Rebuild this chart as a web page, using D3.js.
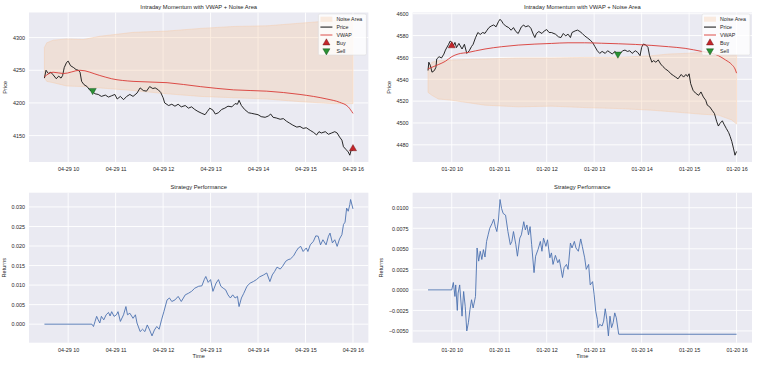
<!DOCTYPE html>
<html><head><meta charset="utf-8">
<script src="https://cdn.jsdelivr.net/npm/d3@7"></script>
<style>body{margin:0;background:#fff} text{font-family:"Liberation Sans",Arial,sans-serif;fill:#262626}</style>
</head><body><svg id="c" width="773" height="365"></svg>
<script>
// ---------- DATA ----------
const leftDay = "2024-04-29";
const rightDay = "2024-01-20";
const sessionStart = "09:30", sessionEnd = "16:00";

const leftPrice = [["09:30",4238],["09:32",4250],["09:35",4245],["09:38",4247],["09:41",4243],["09:45",4237],["09:48",4241],["09:51",4238],["09:53",4242],["09:55",4254],["09:58",4262],["10:00",4264],["10:03",4257],["10:07",4254],["10:10",4251],["10:13",4250],["10:15",4247],["10:17",4233],["10:20",4228],["10:24",4225],["10:27",4220],["10:30",4218],["10:34",4214],["10:38",4213],["10:42",4210],["10:47",4212],["10:51",4209],["10:55",4211],["10:59",4213],["11:02",4206],["11:06",4210],["11:10",4205],["11:14",4210],["11:18",4213],["11:22",4210],["11:27",4215],["11:31",4223],["11:35",4219],["11:39",4218],["11:43",4225],["11:47",4222],["11:50",4223],["11:54",4220],["11:57",4216],["12:00",4208],["12:02",4200],["12:07",4196],["12:11",4198],["12:15",4195],["12:19",4198],["12:23",4194],["12:28",4196],["12:32",4192],["12:36",4194],["12:40",4190],["12:44",4187],["12:49",4184],["12:53",4182],["12:56",4187],["12:59",4192],["13:03",4189],["13:06",4183],["13:10",4185],["13:14",4190],["13:18",4192],["13:22",4195],["13:27",4194],["13:31",4199],["13:34",4198],["13:36",4204],["13:39",4196],["13:43",4190],["13:48",4185],["13:52",4184],["13:56",4183],["14:00",4182],["14:04",4179],["14:09",4178],["14:13",4180],["14:16",4183],["14:19",4178],["14:23",4177],["14:28",4175],["14:32",4176],["14:36",4172],["14:40",4169],["14:44",4166],["14:49",4163],["14:53",4164],["14:57",4161],["15:01",4162],["15:06",4158],["15:10",4155],["15:14",4151],["15:17",4156],["15:20",4154],["15:25",4156],["15:29",4152],["15:33",4154],["15:37",4156],["15:40",4154],["15:43",4148],["15:46",4143],["15:48",4133],["15:51",4129],["15:54",4125],["15:56",4120],["15:58",4129],["16:00",4127]];
const leftVwap = [["09:30",4240],["09:41",4247],["09:54",4245],["10:15",4250],["10:40",4242],["10:55",4237],["11:22",4233],["12:05",4231],["12:47",4225],["13:29",4220],["14:11",4218],["14:53",4213],["15:27",4206],["15:43",4201],["15:54",4194],["16:00",4184]];
const leftBandUpper = [["09:30",4285],["09:33",4292],["09:41",4296],["09:58",4298],["10:19",4297],["10:40",4302],["11:22",4308],["12:05",4310],["12:47",4314],["13:29",4317],["14:11",4318],["14:53",4322],["15:35",4326],["16:00",4328]];
const leftBandLower = [["09:30",4238],["09:33",4233],["09:41",4231],["09:58",4226],["10:19",4225],["10:40",4223],["11:22",4219],["12:05",4214],["12:47",4210],["13:29",4208],["14:11",4206],["14:53",4202],["15:35",4199],["16:00",4199]];
const leftBuys = [["16:00",4130]];
const leftSells = [["10:31",4219]];

const rightPrice = [["09:30",4548],["09:31",4555.6],["09:33",4552.5],["09:35",4546.5],["09:38",4548],["09:40",4551],["09:41",4558.6],["09:44",4560.7],["09:47",4559.5],["09:50",4563],["09:52",4566.7],["09:56",4572],["09:58",4575],["10:00",4573.7],["10:02",4570.7],["10:04",4573.7],["10:06",4569],["10:09",4572.8],["10:13",4567.7],["10:16",4572],["10:19",4563.7],["10:22",4566],["10:25",4570],["10:27",4572],["10:30",4578],["10:33",4582.8],["10:36",4581],["10:39",4582.8],["10:42",4582],["10:44",4584.3],["10:47",4587.3],["10:50",4588.8],["10:53",4589.7],["10:56",4588],["10:59",4592.7],["11:01",4594.9],["11:03",4593.3],["11:05",4591],["11:08",4588.8],["11:12",4587.3],["11:15",4584.9],["11:18",4587.3],["11:21",4583.7],["11:24",4581.9],["11:28",4588],["11:31",4589.7],["11:33",4588],["11:37",4589],["11:40",4586.7],["11:43",4581.3],["11:45",4578.2],["11:47",4581.9],["11:50",4583.7],["11:54",4581.9],["11:57",4584.3],["12:00",4585.5],["12:03",4582.8],["12:06",4582.8],["12:11",4581.3],["12:15",4578.8],["12:18",4578.2],["12:21",4581.9],["12:24",4579.7],["12:27",4581.3],["12:30",4578.2],["12:32",4582.8],["12:36",4584.3],["12:39",4585],["12:42",4583.7],["12:45",4581.9],["12:48",4579.7],["12:52",4577.6],["12:55",4575.8],["12:58",4573.7],["13:01",4569.8],["13:04",4566.1],["13:07",4563.7],["13:10",4565.5],["13:14",4563.7],["13:17",4566.1],["13:20",4564.6],["13:23",4563.1],["13:26",4565.5],["13:30",4563.1],["13:33",4563.7],["13:36",4566.1],["13:39",4566.7],["13:42",4565.5],["13:45",4566.1],["13:48",4563.7],["13:52",4566.1],["13:55",4564.6],["13:58",4561.6],["14:00",4569.2],["14:02",4572.2],["14:05",4571.6],["14:08",4569.2],["14:10",4561.6],["14:13",4555.6],["14:15",4557.1],["14:18",4555.6],["14:21",4557.7],["14:24",4554],["14:27",4551.6],["14:30",4549.5],["14:34",4547.4],["14:37",4545],["14:40",4543.5],["14:43",4542],["14:46",4540.4],["14:50",4544.4],["14:53",4542],["14:56",4544.4],["14:58",4542.6],["15:00",4545],["15:02",4536],["15:05",4529.9],["15:08",4527.4],["15:12",4525.3],["15:15",4528.4],["15:18",4523.8],["15:21",4520.8],["15:23",4516.3],["15:26",4514.8],["15:29",4511.7],["15:32",4508.7],["15:35",4501.1],["15:37",4497.2],["15:39",4499.6],["15:42",4502],["15:44",4499],["15:47",4495],["15:50",4491.2],["15:52",4487.5],["15:54",4483],["15:56",4477],["15:58",4470.5],["16:00",4473.9]];
const rightVwap = [["09:30",4549.5],["09:35",4551],["09:43",4553.4],["09:52",4556.5],["10:00",4560.7],["10:08",4563.1],["10:21",4564.6],["10:30",4566],["10:42",4567.7],["11:03",4569.8],["11:24",4571.3],["11:45",4572.2],["12:06",4572.8],["12:27",4573.4],["12:48",4573.4],["13:09",4573],["13:31",4572.5],["13:52",4571.9],["14:13",4571],["14:34",4569.8],["14:55",4568.3],["15:16",4565.5],["15:29",4563.7],["15:37",4561.6],["15:46",4557.7],["15:54",4553.4],["15:58",4549.5],["16:00",4545.6]];
const rightBandUpper = [["09:30",4550],["09:35",4555.6],["09:43",4557],["10:00",4557.7],["10:42",4558.6],["11:24",4559.5],["12:06",4559.5],["12:48",4560],["13:31",4560],["14:13",4561.6],["14:34",4563.1],["14:55",4563.7],["15:16",4564.6],["15:37",4563],["15:54",4562.5],["16:00",4562.5]];
const rightBandLower = [["09:30",4528],["09:35",4525.3],["09:43",4522],["10:00",4520.8],["10:42",4516.3],["11:24",4514.8],["12:06",4515.4],["12:48",4514.1],["13:31",4513.2],["14:13",4511.7],["14:34",4510.5],["14:55",4509.3],["15:16",4508],["15:37",4507.2],["15:54",4502.7],["16:00",4499]];
const rightBuys = [["10:00",4570.7]];
const rightSells = [["13:30",4563]];

const leftReturns = [["09:30",0],["10:30",0],["10:32",-0.0006],["10:34",0.0007],["10:36",0.002],["10:38",0.0011],["10:40",0.0003],["10:42",0.002],["10:45",0.0011],["10:48",0.0024],["10:51",0.003],["10:53",0.0021],["10:55",0.0032],["10:58",0.002],["11:01",0.0024],["11:03",0.0032],["11:06",0.0007],["11:10",0.0024],["11:13",0.0045],["11:15",0.0024],["11:18",0.0028],["11:22",0.0015],["11:25",0.0024],["11:27",0.0003],["11:31",-0.0019],["11:34",-0.0013],["11:37",-0.0019],["11:40",-0.0002],["11:43",-0.0015],["11:46",-0.003],["11:49",-0.0015],["11:52",-0.0006],["11:55",-0.0013],["11:58",0.0011],["12:01",0.0032],["12:05",0.0062],["12:08",0.0067],["12:11",0.0058],["12:15",0.0062],["12:19",0.0071],["12:23",0.0058],["12:28",0.0075],["12:32",0.0079],["12:36",0.0084],["12:40",0.0092],["12:45",0.0097],["12:49",0.0098],["12:52",0.0114],["12:54",0.0122],["12:57",0.0107],["13:00",0.0114],["13:03",0.0084],["13:07",0.0105],["13:10",0.0114],["13:13",0.0097],["13:16",0.0092],["13:19",0.0088],["13:22",0.0075],["13:25",0.0067],["13:28",0.0075],["13:31",0.0067],["13:34",0.0071],["13:36",0.0045],["13:39",0.0067],["13:42",0.0079],["13:46",0.0097],["13:50",0.0105],["13:54",0.0109],["13:58",0.0114],["14:02",0.0121],["14:07",0.0126],["14:11",0.0131],["14:15",0.0109],["14:18",0.0126],["14:21",0.0135],["14:24",0.0146],["14:28",0.0141],["14:31",0.0148],["14:35",0.0161],["14:38",0.0165],["14:41",0.0167],["14:45",0.0175],["14:48",0.0186],["14:51",0.0195],["14:54",0.0199],["14:57",0.0186],["15:01",0.0195],["15:03",0.0186],["15:06",0.0203],["15:10",0.0212],["15:13",0.0226],["15:16",0.0225],["15:19",0.0203],["15:22",0.0216],["15:26",0.0203],["15:29",0.0225],["15:31",0.0233],["15:34",0.0208],["15:37",0.0216],["15:40",0.0199],["15:43",0.0218],["15:46",0.0229],["15:48",0.0255],["15:50",0.0261],["15:52",0.0297],["15:54",0.0289],["15:56",0.0306],["15:57",0.0319],["16:00",0.0295]];
const rightReturns = [["09:30",0],["10:00",0],["10:02",0.0009],["10:04",-0.0008],["10:05",0.0006],["10:07",-0.0025],["10:08",-0.0004],["10:10",0.0006],["10:13",-0.0032],["10:15",-0.0002],["10:17",-0.002],["10:19",-0.005],["10:21",-0.004],["10:23",-0.0024],["10:25",-0.0012],["10:27",-0.0022],["10:30",-0.0008],["10:32",0.0051],["10:34",0.0035],["10:36",0.0047],["10:38",0.0037],["10:40",0.0049],["10:42",0.004],["10:44",0.0059],["10:46",0.0067],["10:48",0.0075],["10:51",0.0081],["10:53",0.0086],["10:55",0.0077],["10:57",0.0071],["10:59",0.0085],["11:01",0.011],["11:03",0.0099],["11:05",0.0093],["11:08",0.0091],["11:11",0.0071],["11:14",0.0055],["11:16",0.0059],["11:18",0.0071],["11:21",0.0055],["11:23",0.0041],["11:26",0.0063],["11:28",0.0067],["11:31",0.0083],["11:33",0.0073],["11:35",0.0079],["11:37",0.0067],["11:39",0.0077],["11:41",0.0055],["11:44",0.0021],["11:46",0.0041],["11:49",0.0049],["11:52",0.0059],["11:54",0.0047],["11:56",0.0063],["11:59",0.0053],["12:01",0.0061],["12:04",0.0039],["12:06",0.0045],["12:08",0.0031],["12:11",0.0042],["12:14",0.0033],["12:16",0.0037],["12:20",0.0015],["12:22",0.0027],["12:25",0.0031],["12:27",0.0025],["12:30",0.0057],["12:32",0.0051],["12:35",0.0059],["12:37",0.0051],["12:40",0.0047],["12:43",0.0062],["12:45",0.0053],["12:48",0.0039],["12:50",0.0025],["12:53",0.0031],["12:55",0.0006],["12:58",0.001],["13:00",-0.0006],["13:02",-0.0026],["13:04",-0.0036],["13:05",-0.0046],["13:07",-0.0042],["13:10",-0.0044],["13:12",-0.0038],["13:14",-0.0023],["13:16",-0.0036],["13:18",-0.0056],["13:20",-0.0032],["13:22",-0.0046],["13:24",-0.004],["13:26",-0.0028],["13:28",-0.0034],["13:31",-0.0054],["16:00",-0.0054]];

const priceTicksLeft = [4150,4200,4250,4300];
const priceTicksRight = [4480,4500,4520,4540,4560,4580,4600];
const returnTicksLeft = [0,0.005,0.010,0.015,0.020,0.025,0.030];
const returnTicksRight = [-0.005,-0.0025,0,0.0025,0.005,0.0075,0.010];
const legendLabels = ["Noise Area","Price","VWAP","Buy","Sell"];
const topTitle = "Intraday Momentum with VWAP + Noise Area";
const bottomTitle = "Strategy Performance";

// ---------- DRAW ----------
const svg = d3.select("#c");
const C = {bg:"#EAEAF2", band:"#F5CBA7", bandOp:0.35, price:"#111", vwap:"#d93a36", ret:"#4C72B0", buy:"#c4262b", sell:"#2a9134"};
const toDate = (day, t) => new Date(day + "T" + t + ":00");
const fmtMinus = s => s.replace("-", "\u2212");

function panel(o) {
  const {L, R, T, B, day} = o;
  const pad = (R - L) * 0; // placeholder
  const s = toDate(day, sessionStart), e = toDate(day, sessionEnd);
  const span = e - s;
  const x = d3.scaleTime().domain([new Date(+s - span*0.05), new Date(+e + span*0.05)]).range([L, R]);
  const [mn, mx] = d3.extent(o.allValues);
  const yr = mx - mn;
  const y = d3.scaleLinear().domain([mn - yr*0.05, mx + yr*0.05]).range([B, T]);
  const g = svg.append("g");
  g.append("rect").attr("x", L).attr("y", T).attr("width", R - L).attr("height", B - T).attr("fill", C.bg);
  // grid
  const xt = x.ticks(d3.timeHour.every(1));
  g.append("g").selectAll("line").data(xt).join("line")
    .attr("x1", d => x(d)).attr("x2", d => x(d)).attr("y1", T).attr("y2", B)
    .attr("stroke", "#fff").attr("stroke-width", 0.9);
  g.append("g").selectAll("line").data(o.yTicks).join("line")
    .attr("y1", d => y(d)).attr("y2", d => y(d)).attr("x1", L).attr("x2", R)
    .attr("stroke", "#fff").attr("stroke-width", 0.9);
  // axes (no domain, no tick lines)
  const xa = g.append("g").attr("transform", `translate(0,${B})`)
    .call(d3.axisBottom(x).tickValues(xt).tickSize(0).tickPadding(5).tickFormat(d3.timeFormat("%m-%d %H")));
  const ya = g.append("g").attr("transform", `translate(${L},0)`)
    .call(d3.axisLeft(y).tickValues(o.yTicks).tickSize(0).tickPadding(4).tickFormat(d => fmtMinus(d3.format(o.yFmt)(d))));
  [xa, ya].forEach(a => { a.select(".domain").remove(); a.selectAll("text").attr("font-size", 5.4).attr("fill", "#333").attr("font-family", '"Liberation Sans",Arial,sans-serif'); });
  g.append("text").attr("x", (L + R) / 2).attr("y", T - 3.5).attr("text-anchor", "middle").attr("font-size", 5.8).text(o.title);
  g.append("text").attr("transform", `translate(${o.yLabelX},${(T + B) / 2}) rotate(-90)`).attr("text-anchor", "middle").attr("font-size", 5.6).text(o.yLabel);
  if (o.xLabel) g.append("text").attr("x", (L + R) / 2).attr("y", B + 15).attr("text-anchor", "middle").attr("font-size", 5.6).text(o.xLabel);
  const clip = "clip" + Math.round(L) + Math.round(T);
  svg.append("clipPath").attr("id", clip).append("rect").attr("x", L).attr("y", T).attr("width", R - L).attr("height", B - T);
  const body = g.append("g").attr("clip-path", `url(#${clip})`);
  return {x, y, body, g, day};
}

function drawPriceChart(o) {
  const all = [...o.price, ...o.upper, ...o.lower, ...o.vwap, ...o.buys, ...o.sells].map(d => d[1]);
  const p = panel({...o, allValues: all, yFmt: "d", yLabel: "Price", title: topTitle});
  const X = d => p.x(toDate(o.day, d[0]));
  // band
  const bandData = o.upper.map((d, i) => ({t: d[0], hi: d[1], lo: o.lower[i][1]}));
  p.body.append("path").datum(bandData)
    .attr("d", d3.area().x(d => p.x(toDate(o.day, d.t))).y0(d => p.y(d.lo)).y1(d => p.y(d.hi)))
    .attr("fill", C.band).attr("fill-opacity", C.bandOp).attr("stroke", C.band).attr("stroke-opacity", 0.55).attr("stroke-width", 0.8);
  p.body.append("path").datum(o.price).attr("d", d3.line().x(X).y(d => p.y(d[1])))
    .attr("fill", "none").attr("stroke", C.price).attr("stroke-width", 0.9);
  p.body.append("path").datum(o.vwap).attr("d", d3.line().curve(d3.curveMonotoneX).x(X).y(d => p.y(d[1])))
    .attr("fill", "none").attr("stroke", C.vwap).attr("stroke-width", 0.9);
  const tri = d3.symbol().type(d3.symbolTriangle).size(22);
  p.body.selectAll(".buy").data(o.buys).join("path").attr("transform", d => `translate(${X(d)},${p.y(d[1])})`)
    .attr("d", tri).attr("fill", C.buy).attr("stroke", "#5a1010").attr("stroke-width", 0.4);
  p.body.selectAll(".sell").data(o.sells).join("path").attr("transform", d => `translate(${X(d)},${p.y(d[1])}) rotate(180)`)
    .attr("d", tri).attr("fill", C.sell).attr("stroke", "#104010").attr("stroke-width", 0.4);
  // legend
  const lg = p.g.append("g").attr("transform", `translate(${o.R - 50},${o.T + 1.5})`);
  lg.append("rect").attr("x", 0).attr("y", 0).attr("width", 48).attr("height", 41).attr("rx", 1.5)
    .attr("fill", "#fff").attr("fill-opacity", 0.8).attr("stroke", "#d8d8d8").attr("stroke-width", 0.5);
  legendLabels.forEach((lab, i) => {
    const yy = 5.2 + i * 7.9;
    const h = lg.append("g").attr("transform", `translate(2,${yy})`);
    if (i === 0) h.append("rect").attr("x", 0).attr("y", -2.5).attr("width", 12).attr("height", 5).attr("fill", C.band).attr("fill-opacity", C.bandOp);
    if (i === 1) h.append("line").attr("x1", 0).attr("x2", 12).attr("stroke", "#444").attr("stroke-width", 1.3);
    if (i === 2) h.append("line").attr("x1", 0).attr("x2", 12).attr("stroke", C.vwap).attr("stroke-width", 0.9);
    if (i === 3) h.append("path").attr("transform", "translate(6,0)").attr("d", tri).attr("fill", C.buy).attr("stroke", "#5a1010").attr("stroke-width", 0.4);
    if (i === 4) h.append("path").attr("transform", "translate(6,0) rotate(180)").attr("d", tri).attr("fill", C.sell).attr("stroke", "#104010").attr("stroke-width", 0.4);
    lg.append("text").attr("x", 18).attr("y", yy + 1.9).attr("font-size", 5.3).text(lab);
  });
}

function drawReturns(o) {
  const p = panel({...o, allValues: o.ret.map(d => d[1]), yLabel: "Returns", title: bottomTitle, xLabel: "Time"});
  p.body.append("path").datum(o.ret).attr("d", d3.line().x(d => p.x(toDate(o.day, d[0]))).y(d => p.y(d[1])))
    .attr("fill", "none").attr("stroke", C.ret).attr("stroke-width", 0.9);
}

drawPriceChart({L: 29, R: 368.4, T: 12.5, B: 162, day: leftDay, price: leftPrice, vwap: leftVwap, upper: leftBandUpper, lower: leftBandLower, buys: leftBuys, sells: leftSells, yTicks: priceTicksLeft, yLabelX: 7});
drawPriceChart({L: 412.6, R: 752, T: 12.5, B: 162, day: rightDay, price: rightPrice, vwap: rightVwap, upper: rightBandUpper, lower: rightBandLower, buys: rightBuys, sells: rightSells, yTicks: priceTicksRight, yLabelX: 391});
drawReturns({L: 29, R: 368.4, T: 192.7, B: 342.7, day: leftDay, ret: leftReturns, yTicks: returnTicksLeft, yFmt: ".3f", yLabelX: 6});
drawReturns({L: 412.6, R: 752, T: 192.7, B: 342.7, day: rightDay, ret: rightReturns, yTicks: returnTicksRight, yFmt: ".4f", yLabelX: 383});
</script></body></html>
